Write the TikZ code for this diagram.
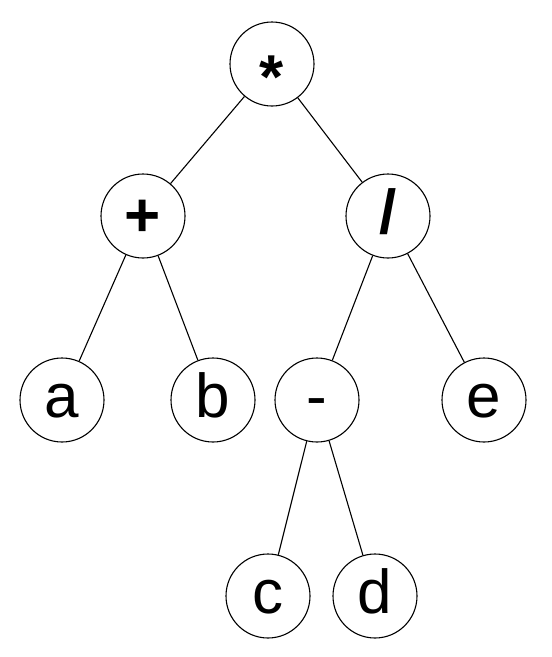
\documentclass[tikz,border=0pt]{standalone}
\usepackage{fontspec}
\setmainfont{Liberation Sans}
\begin{document}
\begin{tikzpicture}[x=1pt,y=-1pt,
  tnode/.style={draw, circle, line width=1.1pt, minimum size=84pt, inner sep=0pt,
    font=\fontsize{62}{62}\selectfont, text height=34pt, text depth=0pt},
  edge/.style={line width=1.1pt}]
\useasboundingbox (0,0) rectangle (552,657);
\node[tnode] (mul) at (272,64) {\raisebox{-17pt}{\bfseries *}};
\node[tnode] (plus) at (143,216) {\raisebox{-3pt}{\bfseries +}};
\node[tnode] (div) at (388,216) {\bfseries /};
\node[tnode] (a) at (62,400) {a};
\node[tnode] (b) at (213,400) {b};
\node[tnode] (minus) at (317,400) {-};
\node[tnode] (e) at (484,400) {e};
\node[tnode] (c) at (268,596) {c};
\node[tnode] (d) at (375,596) {d};
\draw[edge] (mul) -- (plus);
\draw[edge] (mul) -- (div);
\draw[edge] (plus) -- (a);
\draw[edge] (plus) -- (b);
\draw[edge] (div) -- (minus);
\draw[edge] (div) -- (e);
\draw[edge] (minus) -- (c);
\draw[edge] (minus) -- (d);
\end{tikzpicture}
\end{document}
